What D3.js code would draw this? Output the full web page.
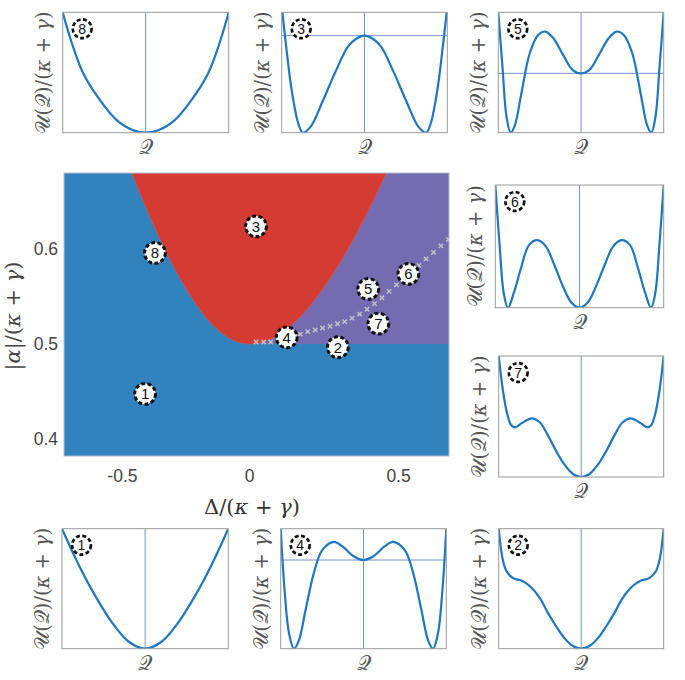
<!DOCTYPE html>
<html><head><meta charset="utf-8">
<script src="https://cdn.jsdelivr.net/npm/d3@7"></script>
<style>body{margin:0;background:#fff}svg{display:block}</style>
</head><body><svg id="c" width="685" height="680"></svg>
<script>
// ---------------- data ----------------
const xTickValues = [-0.5, 0, 0.5];
const yTickValues = [0.4, 0.5, 0.6];
const xDomain = [-0.728, 0, 0.671];
const yDomain = [0.382, 0.68];

// red region boundary (Δ, |α|)
const redAlpha = [0.68,0.66,0.64,0.62,0.60,0.58,0.56,0.55,0.54,0.53,0.52,0.515,0.51,0.505,0.502,0.5005,0.5,0.5005,0.502,0.505,0.51,0.515,0.52,0.53,0.54,0.55,0.56,0.58,0.60,0.62,0.64,0.66,0.68];
const redDelta = [-0.461,-0.431,-0.400,-0.367,-0.332,-0.294,-0.252,-0.229,-0.204,-0.176,-0.143,-0.123,-0.100,-0.071,-0.045,-0.022,0,0.022,0.045,0.071,0.100,0.123,0.143,0.176,0.204,0.229,0.252,0.294,0.332,0.367,0.400,0.431,0.461];
const purpleFloor = 0.5;

// grey crosses
const crossDelta = [0.024,0.049,0.073,0.098,0.123,0.148,0.172,0.197,0.222,0.247,0.272,0.297,0.321,0.346,0.371,0.396,0.421,0.446,0.470,0.495,0.520,0.545,0.570,0.594,0.619,0.644,0.669];
const crossAlpha = [0.502,0.502,0.502,0.5035,0.505,0.5077,0.5103,0.513,0.5147,0.5168,0.5187,0.5212,0.5235,0.5272,0.5314,0.5366,0.5424,0.5487,0.5554,0.5622,0.5691,0.5759,0.5827,0.5896,0.5964,0.6033,0.6101];

// numbered markers
const markerIds   = [1, 2, 3, 4, 5, 6, 7, 8];
const markerDelta = [-0.409, 0.298, 0.0235, 0.1265, 0.400, 0.5346, 0.434, -0.370];
const markerAlpha = [0.4474, 0.4965, 0.6238, 0.507, 0.5579, 0.5737, 0.5214, 0.5958];

// potential curves U(Q)/(κ+γ), normalised
const q8 = [-1,-0.89,-0.75,-0.55,-0.35,-0.15,0,0.15,0.35,0.55,0.75,0.89,1];
const u8 = [1,0.745,0.49,0.27,0.105,0.02,0,0.02,0.105,0.27,0.49,0.745,1];
const q1 = [-1,-0.8,-0.6,-0.4,-0.2,0,0.2,0.4,0.6,0.8,1];
const u1 = [1,0.7,0.44,0.22,0.06,0,0.06,0.22,0.44,0.7,1];
const q3 = [-1,-0.95,-0.88,-0.8,-0.745,-0.65,-0.5,-0.35,-0.2,-0.1,0,0.1,0.2,0.35,0.5,0.65,0.745,0.8,0.88,0.95,1];
const u3 = [1.05,0.74,0.355,0.078,0,0.05,0.27,0.507,0.715,0.78,0.806,0.78,0.715,0.507,0.27,0.05,0,0.078,0.355,0.74,1.05];
const q5 = [-1,-0.95,-0.9,-0.85,-0.8,-0.72,-0.62,-0.52,-0.43,-0.33,-0.22,-0.1,0,0.1,0.22,0.33,0.43,0.52,0.62,0.72,0.8,0.85,0.9,0.95,1];
const u5 = [1,0.55,0.13,0,0.06,0.33,0.66,0.81,0.84,0.78,0.65,0.52,0.493,0.52,0.65,0.78,0.84,0.81,0.66,0.33,0.06,0,0.13,0.55,1];
const q6 = [-1,-0.95,-0.9,-0.85,-0.78,-0.7,-0.6,-0.5,-0.4,-0.3,-0.2,-0.1,0,0.1,0.2,0.3,0.4,0.5,0.6,0.7,0.78,0.85,0.9,0.95,1];
const u6 = [1,0.52,0.12,0,0.12,0.31,0.51,0.55,0.5,0.35,0.18,0.045,0,0.045,0.18,0.35,0.5,0.55,0.51,0.31,0.12,0,0.12,0.52,1];
const q7 = [-1,-0.95,-0.9,-0.85,-0.8,-0.72,-0.6,-0.5,-0.4,-0.3,-0.2,-0.1,0,0.1,0.2,0.3,0.4,0.5,0.6,0.72,0.8,0.85,0.9,0.95,1];
const u7 = [1,0.72,0.53,0.43,0.41,0.445,0.485,0.45,0.34,0.21,0.1,0.025,0,0.025,0.1,0.21,0.34,0.45,0.485,0.445,0.41,0.43,0.53,0.72,1];
const q4 = [-1,-0.95,-0.9,-0.84,-0.78,-0.7,-0.6,-0.5,-0.36,-0.25,-0.12,0,0.12,0.25,0.36,0.5,0.6,0.7,0.78,0.84,0.9,0.95,1];
const u4 = [1,0.46,0.13,0,0.07,0.32,0.63,0.82,0.89,0.85,0.77,0.739,0.77,0.85,0.89,0.82,0.63,0.32,0.07,0,0.13,0.46,1];
const q2 = [-1,-0.95,-0.9,-0.82,-0.72,-0.62,-0.5,-0.4,-0.3,-0.2,-0.1,0,0.1,0.2,0.3,0.4,0.5,0.62,0.72,0.82,0.9,0.95,1];
const u2 = [1,0.74,0.64,0.586,0.567,0.52,0.42,0.294,0.183,0.086,0.022,0,0.022,0.086,0.183,0.294,0.42,0.52,0.567,0.586,0.64,0.74,1];

const panelIds = [8, 3, 5, 6, 7, 1, 4, 2];
const panelQ = {8:q8, 3:q3, 5:q5, 6:q6, 7:q7, 1:q1, 4:q4, 2:q2};
const panelU = {8:u8, 3:u3, 5:u5, 6:u6, 7:u7, 1:u1, 4:u4, 2:u2};
const panelRefLevel = {3:0.806, 5:0.493, 4:0.739};

// ---------------- layout ----------------
const svg = d3.select("#c");
const M = {l:64, r:449, t:173, b:456};
const layout = {
  8:[62.7,12.3,166,120.4], 3:[281.7,12.3,165.6,120.4], 5:[498.3,12.3,165.4,120.4],
  6:[495.3,185,168.4,122.7], 7:[498.7,356,165,121],
  1:[62,528.7,166.3,120], 4:[280.7,528.7,165.6,120], 2:[498.7,528.7,165,120]
};
const C = {blue:"#3182bd", red:"#d43b33", purple:"#756bb1", curve:"#1f77c0", ref:"#5276c4"};
const mathFont = "'DejaVu Serif', serif";
const sansFont = "'Liberation Sans', Arial, sans-serif";

// ---------------- main phase diagram ----------------
const x = d3.scaleLinear().domain(xDomain).range([M.l, 249, M.r]);
const y = d3.scaleLinear().domain(yDomain).range([M.b, M.t]);

svg.append("clipPath").attr("id","mainclip").append("rect")
  .attr("x",M.l).attr("y",M.t).attr("width",M.r-M.l).attr("height",M.b-M.t);
const gm = svg.append("g").attr("clip-path","url(#mainclip)");

gm.append("rect").attr("x",M.l).attr("y",M.t).attr("width",M.r-M.l).attr("height",M.b-M.t).attr("fill",C.blue);

const redPts = redDelta.map((d,i)=>[d, redAlpha[i]]);
const purplePts = redPts.filter(p=>p[0]>=0).concat([[xDomain[2]+0.05, yDomain[1]+0.05],[xDomain[2]+0.05, purpleFloor]]);
gm.append("path").attr("d", d3.line().x(p=>x(p[0])).y(p=>y(p[1]))(purplePts)+"Z").attr("fill",C.purple);

const redLine = d3.line().x(p=>x(p[0])).y(p=>y(p[1])).curve(d3.curveCatmullRom);
gm.append("path").attr("d", redLine(redPts) + `L${x(redDelta[redDelta.length-1])},${M.t-10}L${x(redDelta[0])},${M.t-10}Z`)
  .attr("fill",C.red).attr("stroke","#e0574d").attr("stroke-width",0.6);

const s = 2.2;
gm.selectAll("path.cross").data(crossDelta.map((d,i)=>[d,crossAlpha[i]])).enter().append("path")
  .attr("class","cross")
  .attr("d", p=>`M${x(p[0])-s},${y(p[1])-s}L${x(p[0])+s},${y(p[1])+s}M${x(p[0])-s},${y(p[1])+s}L${x(p[0])+s},${y(p[1])-s}`)
  .attr("stroke","#c4c4c4").attr("stroke-width",1.4);

svg.append("rect").attr("x",M.l).attr("y",M.t).attr("width",M.r-M.l).attr("height",M.b-M.t)
  .attr("fill","none").attr("stroke","#b4bccf").attr("stroke-width",1);

function drawMarker(g, cx, cy, r, label, fs, sw){
  const mg = g.append("g").attr("transform",`translate(${cx},${cy})`);
  mg.append("circle").attr("r",r).attr("fill","#fff").attr("stroke","#111").attr("stroke-width",sw).attr("stroke-dasharray","4,2.4");
  mg.append("text").attr("text-anchor","middle").attr("dy","0.36em").attr("font-family",sansFont)
    .attr("font-size",fs).attr("fill","#111").text(label);
}
markerIds.forEach((id,i)=> drawMarker(svg, x(markerDelta[i]), y(markerAlpha[i]), 10.4, id, 15, 3));

// axes
const xAxis = d3.axisBottom(x).tickValues(xTickValues).tickSize(0).tickPadding(14).tickFormat(d=> d===0 ? "0" : String(d));
const gx = svg.append("g").attr("transform",`translate(0,${M.b})`).call(xAxis);
gx.select(".domain").remove();
gx.selectAll("text").attr("font-family",sansFont).attr("font-size",17.5).attr("fill","#444");
const yAxis = d3.axisLeft(y).tickValues(yTickValues).tickSize(0).tickPadding(6).tickFormat(d3.format(".1f"));
const gy = svg.append("g").attr("transform",`translate(${M.l},0)`).call(yAxis);
gy.select(".domain").remove();
gy.selectAll("text").attr("font-family",sansFont).attr("font-size",17.5).attr("fill","#444");

function mathLabel(t, parts){
  parts.forEach(p=>{ const ts=t.append("tspan").text(p[0]); if(p[1]) ts.attr("font-style","italic"); });
}
const xl = svg.append("text").attr("x",252).attr("y",514).attr("text-anchor","middle").attr("font-family",mathFont).attr("font-size",21).attr("fill","#333");
mathLabel(xl, [["Δ/("],["κ",1],[" + "],["γ",1],[")"]]);
const yl = svg.append("text").attr("transform","translate(20,316) rotate(-90)").attr("text-anchor","middle").attr("font-family",mathFont).attr("font-size",21).attr("fill","#444");
mathLabel(yl, [["|"],["α",1],["|/("],["κ",1],[" + "],["γ",1],[")"]]);

// ---------------- potential panels ----------------
panelIds.forEach(id=>{
  const [x0,y0,w,h] = layout[id];
  const px = d3.scaleLinear().domain([-1,1]).range([x0,x0+w]);
  const py = d3.scaleLinear().domain([0,1]).range([y0+h,y0]);
  const g = svg.append("g");
  g.append("clipPath").attr("id","pc"+id).append("rect").attr("x",x0).attr("y",y0).attr("width",w).attr("height",h);
  const gc = g.append("g").attr("clip-path",`url(#pc${id})`);
  gc.append("line").attr("x1",px(0)).attr("x2",px(0)).attr("y1",y0).attr("y2",y0+h).attr("stroke",C.ref).attr("stroke-width",1).attr("opacity",0.8);
  if (panelRefLevel[id] !== undefined) {
    gc.append("line").attr("x1",x0).attr("x2",x0+w).attr("y1",py(panelRefLevel[id])).attr("y2",py(panelRefLevel[id])).attr("stroke",C.ref).attr("stroke-width",1).attr("opacity",0.8);
  }
  const pts = panelQ[id].map((q,i)=>[q, panelU[id][i]]);
  gc.append("path").attr("d", d3.line().x(p=>px(p[0])).y(p=>py(p[1])).curve(d3.curveCatmullRom)(pts))
    .attr("fill","none").attr("stroke",C.curve).attr("stroke-width",2.2);
  g.append("rect").attr("x",x0).attr("y",y0).attr("width",w).attr("height",h).attr("fill","none").attr("stroke","#9a9a9a").attr("stroke-width",1);
  drawMarker(g, x0+19.5, y0+16.5, 9.4, id, 14, 2.7);
  const yt = g.append("text").attr("transform",`translate(${x0-20},${y0+h/2}) rotate(-90)`).attr("text-anchor","middle")
    .attr("dy","0.35em").attr("font-family",mathFont).attr("font-size",19.5).attr("fill","#555");
  mathLabel(yt, [["𝒰(𝒬)/("],["κ",1],[" + "],["γ",1],[")"]]);
  g.append("text").attr("x",px(0)).attr("y",y0+h+21).attr("text-anchor","middle").attr("font-family",mathFont)
    .attr("font-size",20).attr("fill","#555").text("𝒬");
});
</script></body></html>
